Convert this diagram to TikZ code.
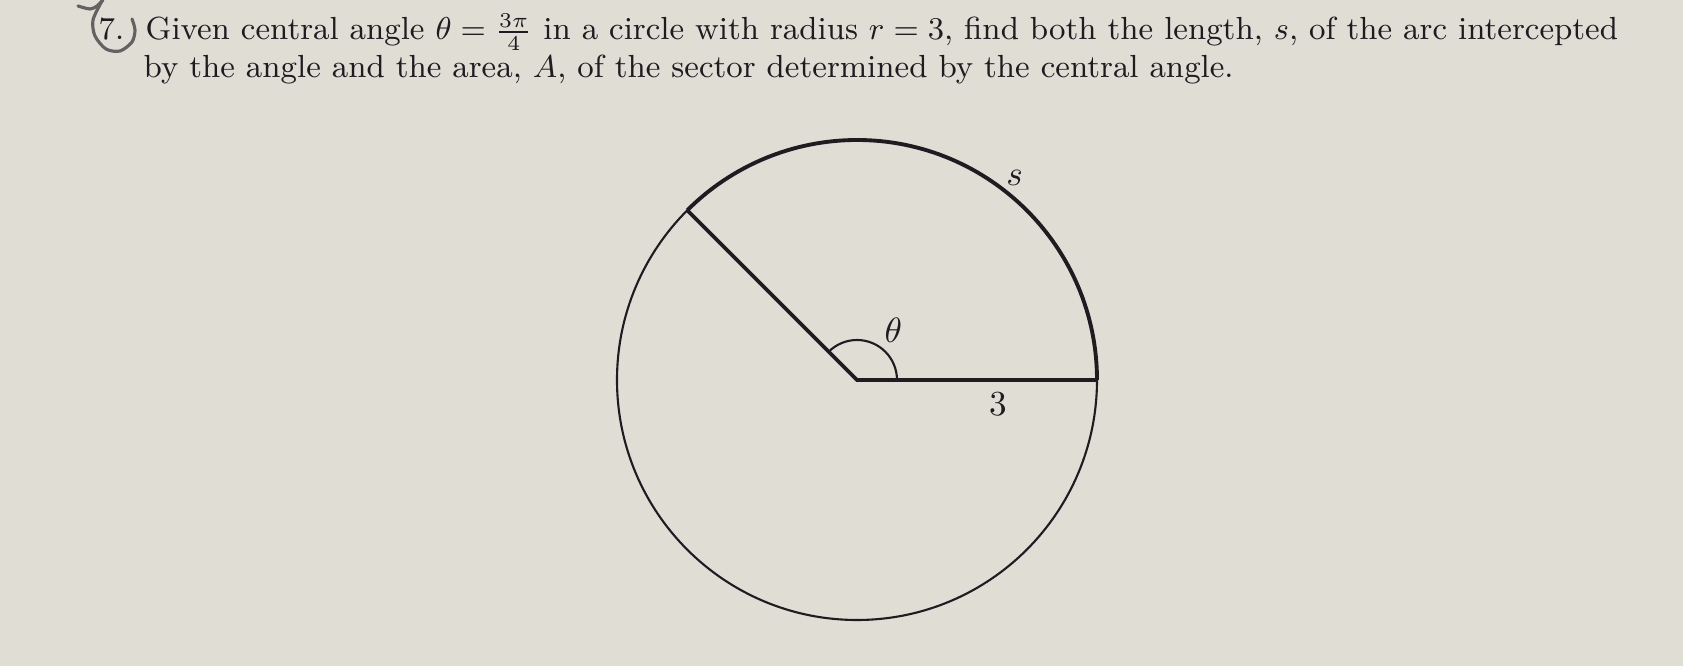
\documentclass[tikz,border=0pt]{standalone}
\usepackage{tikz}

\definecolor{paper}{RGB}{223,221,212}
\definecolor{ink}{RGB}{30,27,33}
\definecolor{pencil}{RGB}{100,97,98}

\tikzset{
  qtext/.style={text=ink, inner sep=0pt, font=\fontsize{9.1}{11}\selectfont},
  lbl/.style={text=ink, inner sep=0pt, font=\fontsize{9.6}{11}\selectfont},
  thinline/.style={draw=ink, line width=0.6pt},
  thickline/.style={draw=ink, line width=1.1pt}
}

\begin{document}
\begin{tikzpicture}[x=0.1mm,y=0.1mm]
    % paper
    \fill[paper] (0,0) rectangle (1683,666);
    \useasboundingbox (0,0) rectangle (1683,666);

    % question
    \node[qtext, anchor=base west] (num) at (98,626) {7.};
    \node[qtext, anchor=base west] (line1) at (145,626) {Given central angle $\theta=\frac{3\pi}{4}$ in a circle with radius $r=3$, find both the length, $s$, of the arc intercepted};
    \node[qtext, anchor=base west] (line2) at (143,588) {by the angle and the area, $A$, of the sector determined by the central angle.};

    % pencil ring round the number
    \draw[pencil, line width=0.9pt, line cap=round] plot[smooth] coordinates {(78,660) (90,657) (97,660) (103,666)};
    \draw[pencil, line width=0.9pt, line cap=round] plot[smooth] coordinates {(102,665) (93,646) (95,630) (106,617) (120,615) (132,624) (135,636) (132,647)};

    % circle and sector
    \coordinate (O) at (857,286);
    \coordinate (R) at ([shift={(0:240)}]O);
    \coordinate (T) at ([shift={(135:240)}]O);
    \draw[thinline] (O) circle (240);
    \draw[thickline] (R) arc[start angle=0, end angle=135, radius=240];
    \draw[thickline, line join=miter] (T) -- (O) -- (R);
    \draw[thinline] ([shift={(0:40)}]O) arc[start angle=0, end angle=135, radius=40];

    % labels
    \node[lbl] (theta) at ([shift={(54:62)}]O) {$\theta$};
    \node[lbl] (sarc) at ([shift={(52:256)}]O) {$s$};
    \node[lbl] (rlen) at ([shift={(141,-24)}]O) {$3$};
\end{tikzpicture}
\end{document}
